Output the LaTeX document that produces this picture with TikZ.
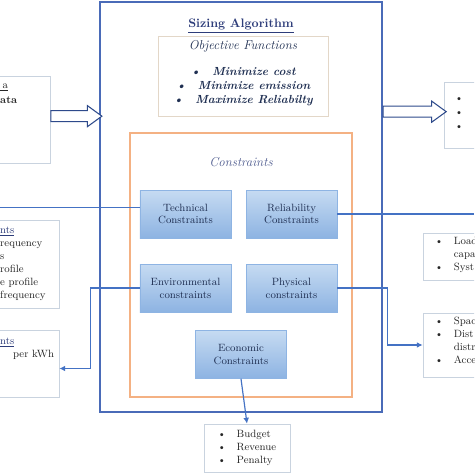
\documentclass[tikz,border=0pt]{standalone}
\usetikzlibrary{arrows.meta,calc,positioning,shapes.arrows}

\definecolor{frameblue}{HTML}{4A6BB8}
\definecolor{lineblue}{HTML}{4472C4}
\definecolor{boxedge}{HTML}{8EB4E3}
\definecolor{boxtop}{HTML}{C6DBF2}
\definecolor{boxbot}{HTML}{8DB3E2}
\definecolor{textnavy}{HTML}{1F2F52}
\definecolor{titlenavy}{HTML}{2E3D7A}
\definecolor{orangeedge}{HTML}{F4B183}
\definecolor{greyedge}{HTML}{C9D3DF}
\definecolor{objedge}{HTML}{E3D7C8}
\definecolor{arrownavy}{HTML}{2E4A8B}

\begin{document}
\begin{tikzpicture}[>=Latex,x=0.03cm,y=-0.03cm,
  cbox/.style={draw=boxedge,top color=boxtop,bottom color=boxbot,minimum width=2.73cm,
    minimum height=1.44cm,align=center,font=\small,text=textnavy},
  listbox/.style={draw=greyedge,fill=white,line width=0.6pt},
  items/.style={anchor=north west,inner sep=0pt,align=left,font=\small,text=black!85},
  link/.style={draw=lineblue,line width=1pt},
  hollowarrow/.style={single arrow,draw=arrownavy,fill=white,line width=0.9pt,inner xsep=0pt,
    inner ysep=0.15cm,single arrow head extend=0.15cm,single arrow tip angle=72}]
  \clip (0,0) rectangle (474,474);
  \fill[white] (0,0) rectangle (474,474);
  \coordinate (leftend) at (0,0);
  \coordinate (rightend) at (474,0);

  \node[draw=frameblue,line width=1.1pt,minimum width=8.46cm,minimum height=12.3cm] (algo) at (241,207) {};
  \node[font=\fontsize{10.5}{12}\selectfont\bfseries,text=titlenavy] (title) at (241,26) {\underline{Sizing Algorithm}};
  \node[draw=objedge,line width=0.8pt,minimum width=5.1cm,minimum height=2.4cm] (obj) at (243,76) {};
  \node[font=\fontsize{11}{13}\selectfont\itshape,text=textnavy] (objtitle) at (243,46) {Objective Functions};
  \node[align=center,font=\bfseries\itshape,text=textnavy] (objitems) at (243,87)
    {\textbullet\quad Minimize cost\\ \textbullet\quad Minimize emission\\ \textbullet\quad Maximize Reliabilty};

  \node[draw=orangeedge,line width=1.1pt,minimum width=6.66cm,minimum height=7.92cm] (cons) at (241,265) {};
  \node[font=\fontsize{11}{13}\selectfont\itshape,text=titlenavy!85] (constitle) at (241,162) {Constraints};

  \node[cbox] (tech) at (185.5,214) {Technical\\ Constraints};
  \node[cbox] (rel) at (291.5,214) {Reliability\\ Constraints};
  \node[cbox] (env) at (185.5,288) {Environmental\\ constraints};
  \node[cbox] (phys) at (291.5,288) {Physical\\ constraints};
  \node[cbox] (econ) at (241,354.5) {Economic\\ Constraints};

  \node[listbox,minimum width=1.8cm,minimum height=2.61cm] (inbox) at (20,119.5) {};
  \node[items] (initems) at (0,84) {\underline{\hspace*{2pt}a}\\[1pt] \textbf{ata}};
  \node[listbox,minimum width=2.07cm,minimum height=2.64cm] (techbox) at (24.5,264) {};
  \node[items] (techitems) at (0,227) {\textcolor{titlenavy}{\underline{nts}}\\ requency\\ s\\ rofile\\ e profile\\ frequency};
  \node[listbox,minimum width=2.07cm,minimum height=2.01cm] (costbox) at (24.5,363.5) {};
  \node[items] (costitems) at (0,338) {\textcolor{titlenavy}{\underline{nts}}\\ \hspace*{11pt}per kWh};

  \node[listbox,minimum width=1.38cm,minimum height=1.98cm] (outbox) at (467,115) {};
  \node[items] (outitems) at ($(outbox.north west)+(11,16)$) {\textbullet\\[1pt] \textbullet\\[1pt] \textbullet};
  \node[listbox,minimum width=2.01cm,minimum height=1.41cm] (relbox) at (456.5,256.5) {};
  \node[items] (relitems) at ($(relbox.north west)+(12,3)$)
    {\begin{tabular}{@{}l@{\hspace{9pt}}l@{}}\textbullet & Load\\ & capa\\ \textbullet & Syst\end{tabular}};
  \node[listbox,minimum width=2.01cm,minimum height=1.92cm] (spacebox) at (456.5,345) {};
  \node[items] (spaceitems) at ($(spacebox.north west)+(12,3)$)
    {\begin{tabular}{@{}l@{\hspace{9pt}}l@{}}\textbullet & Spac\\ \textbullet & Dist\\ & distr\\ \textbullet & Acce\end{tabular}};
  \node[listbox,minimum width=2.58cm,minimum height=1.44cm,font=\small,text=black!85] (budget) at (247,448)
    {\begin{tabular}{@{}l@{\hspace{9pt}}l@{}}\textbullet & Budget\\ \textbullet & Revenue\\ \textbullet & Penalty\end{tabular}};

  \node[hollowarrow,minimum height=1.53cm,anchor=tail] (inarrow) at ([yshift=1mm]inbox.east) {};
  \node[hollowarrow,minimum height=1.89cm,anchor=tail] (outarrow) at ([yshift=1mm]algo.east |- outbox.west) {};

  \draw[link] ([yshift=2mm]tech.west) -- ([yshift=2mm]tech.west -| leftend);
  \draw[link] (rel.east) -- (rel.east -| rightend);
  \draw[link,-{Latex[length=5pt,width=5pt]}] (env.west) -- ++(-49,0) |- ([yshift=-1.5mm]costbox.east);
  \draw[link,-{Latex[length=5pt,width=5pt]}] (phys.east) -- ++(50,0) |- (spacebox.west);
  \draw[link,-{Latex[length=5pt,width=5pt]}] (econ.south) -- (budget.north);
\end{tikzpicture}
\end{document}
